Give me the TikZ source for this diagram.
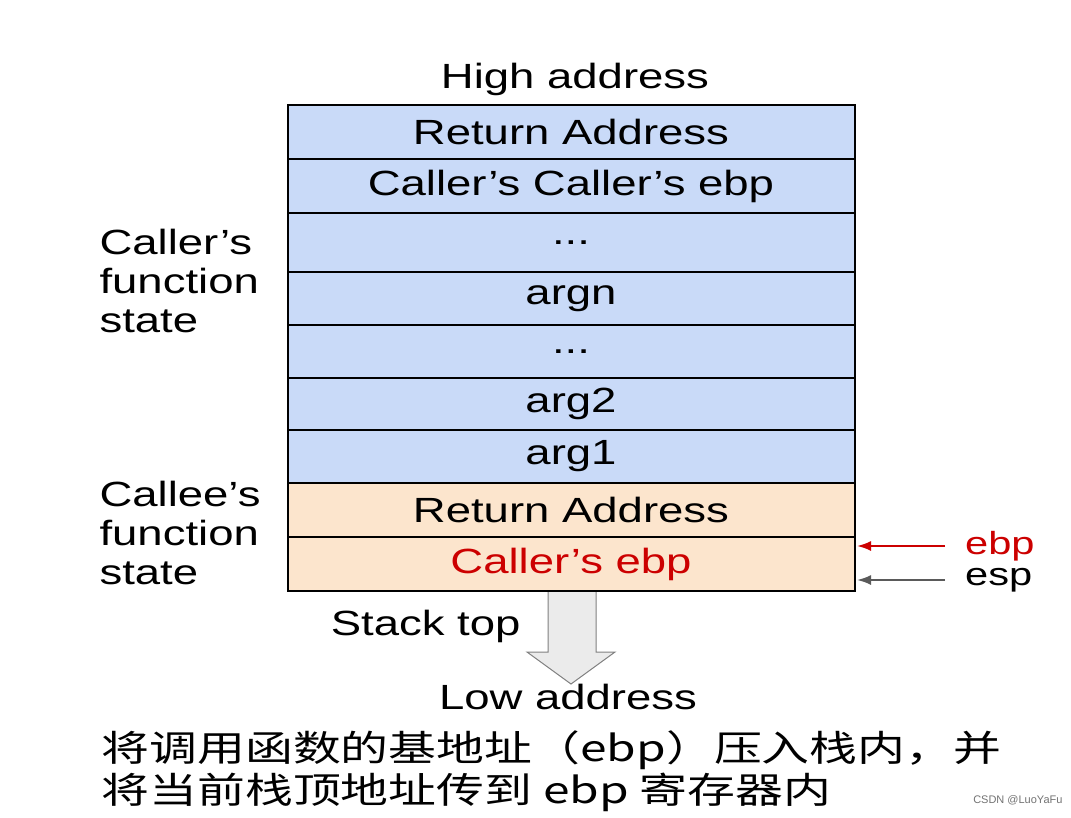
\documentclass[tikz,border=0pt]{standalone}
\usepackage{fontspec}
\setmainfont[FakeStretch=1.3]{Liberation Sans}
\newfontfamily\cjk[FakeStretch=1.33]{Noto Sans CJK SC}
\newfontfamily\plain{Liberation Sans}
\usetikzlibrary{positioning,arrows.meta}
\definecolor{callerblue}{RGB}{201,218,248}
\definecolor{calleeorange}{RGB}{252,229,205}
\definecolor{ebpred}{RGB}{204,0,0}
\definecolor{espgray}{RGB}{90,90,90}
\tikzset{
  big/.style={font=\fontsize{35}{39}\selectfont},
  reg/.style={font=\fontsize{32}{34}\selectfont, inner sep=0pt, anchor=west},
  slot/.style={draw=black, line width=1.8pt, big},
}
\begin{document}
\begin{tikzpicture}[x=1pt,y=-1pt]
  \fill[white] (0,0) rectangle (1071,817);
  \useasboundingbox (0,0) rectangle (1071,817);

  \foreach \t/\b/\txt/\col/\n in {105/159/{Return Address}/callerblue/r1,
      159/213/{Caller’s Caller’s ebp}/callerblue/r2,
      213/272/{...}/callerblue/r3,
      272/325/{argn}/callerblue/r4,
      325/378/{...}/callerblue/r5,
      378/430/{arg2}/callerblue/r6,
      430/483/{arg1}/callerblue/r7,
      483/537/{Return Address}/calleeorange/r8}
  {
    \draw [slot, fill=\col] (288,\t) rectangle (855,\b);
    \node [big] (\n) at (571,{(\t+\b)/2}) {\txt};
  }
  \draw [slot, fill=calleeorange] (288,537) rectangle (855,591);
  \node [big, text=ebpred] (r9) at (571,564) {Caller’s ebp};

  \node [big] (high) at (575,79) {High address};
  \node [big, align=left, anchor=west] (caller) at (96,281) {Caller’s\\function\\state};
  \node [big, align=left, anchor=west] (callee) at (96,533) {Callee’s\\function\\state};

  % register pointers
  \node [reg, text=ebpred] (ebp) at (965,546) {ebp};
  \node [reg] (esp) at (965,580) {esp};
  \coordinate (ebpend) at (857,546);
  \coordinate (espend) at (857,580);
  \draw [ebpred, line width=2pt, -{Latex[length=14pt,width=10pt]}] (ebp.west) ++(-20,0) -- (ebpend);
  \draw [espgray, line width=2pt, -{Latex[length=14pt,width=10pt]}] (esp.west) ++(-20,0) -- (espend);

  % growth arrow
  \draw [gray, line width=1pt, fill=black!8] (548,592) -- (548,652) -- (527,652) -- (571,684)
    -- (615,652) -- (596,652) -- (596,592);
  \node [big, anchor=east] (top) at (524,626) {Stack top};
  \node [big] (low) at (568,697) {Low address};

  \node [font=\cjk\fontsize{36}{42}\selectfont, align=left, anchor=west] (note) at (98,771)
    {将调用函数的基地址（ebp）压入栈内，并\\将当前栈顶地址传到 ebp 寄存器内};
  \node [font=\plain\fontsize{11}{13}\selectfont, text=black!55, anchor=east] (mark) at (1066,800) {CSDN @LuoYaFu};
\end{tikzpicture}
\end{document}
